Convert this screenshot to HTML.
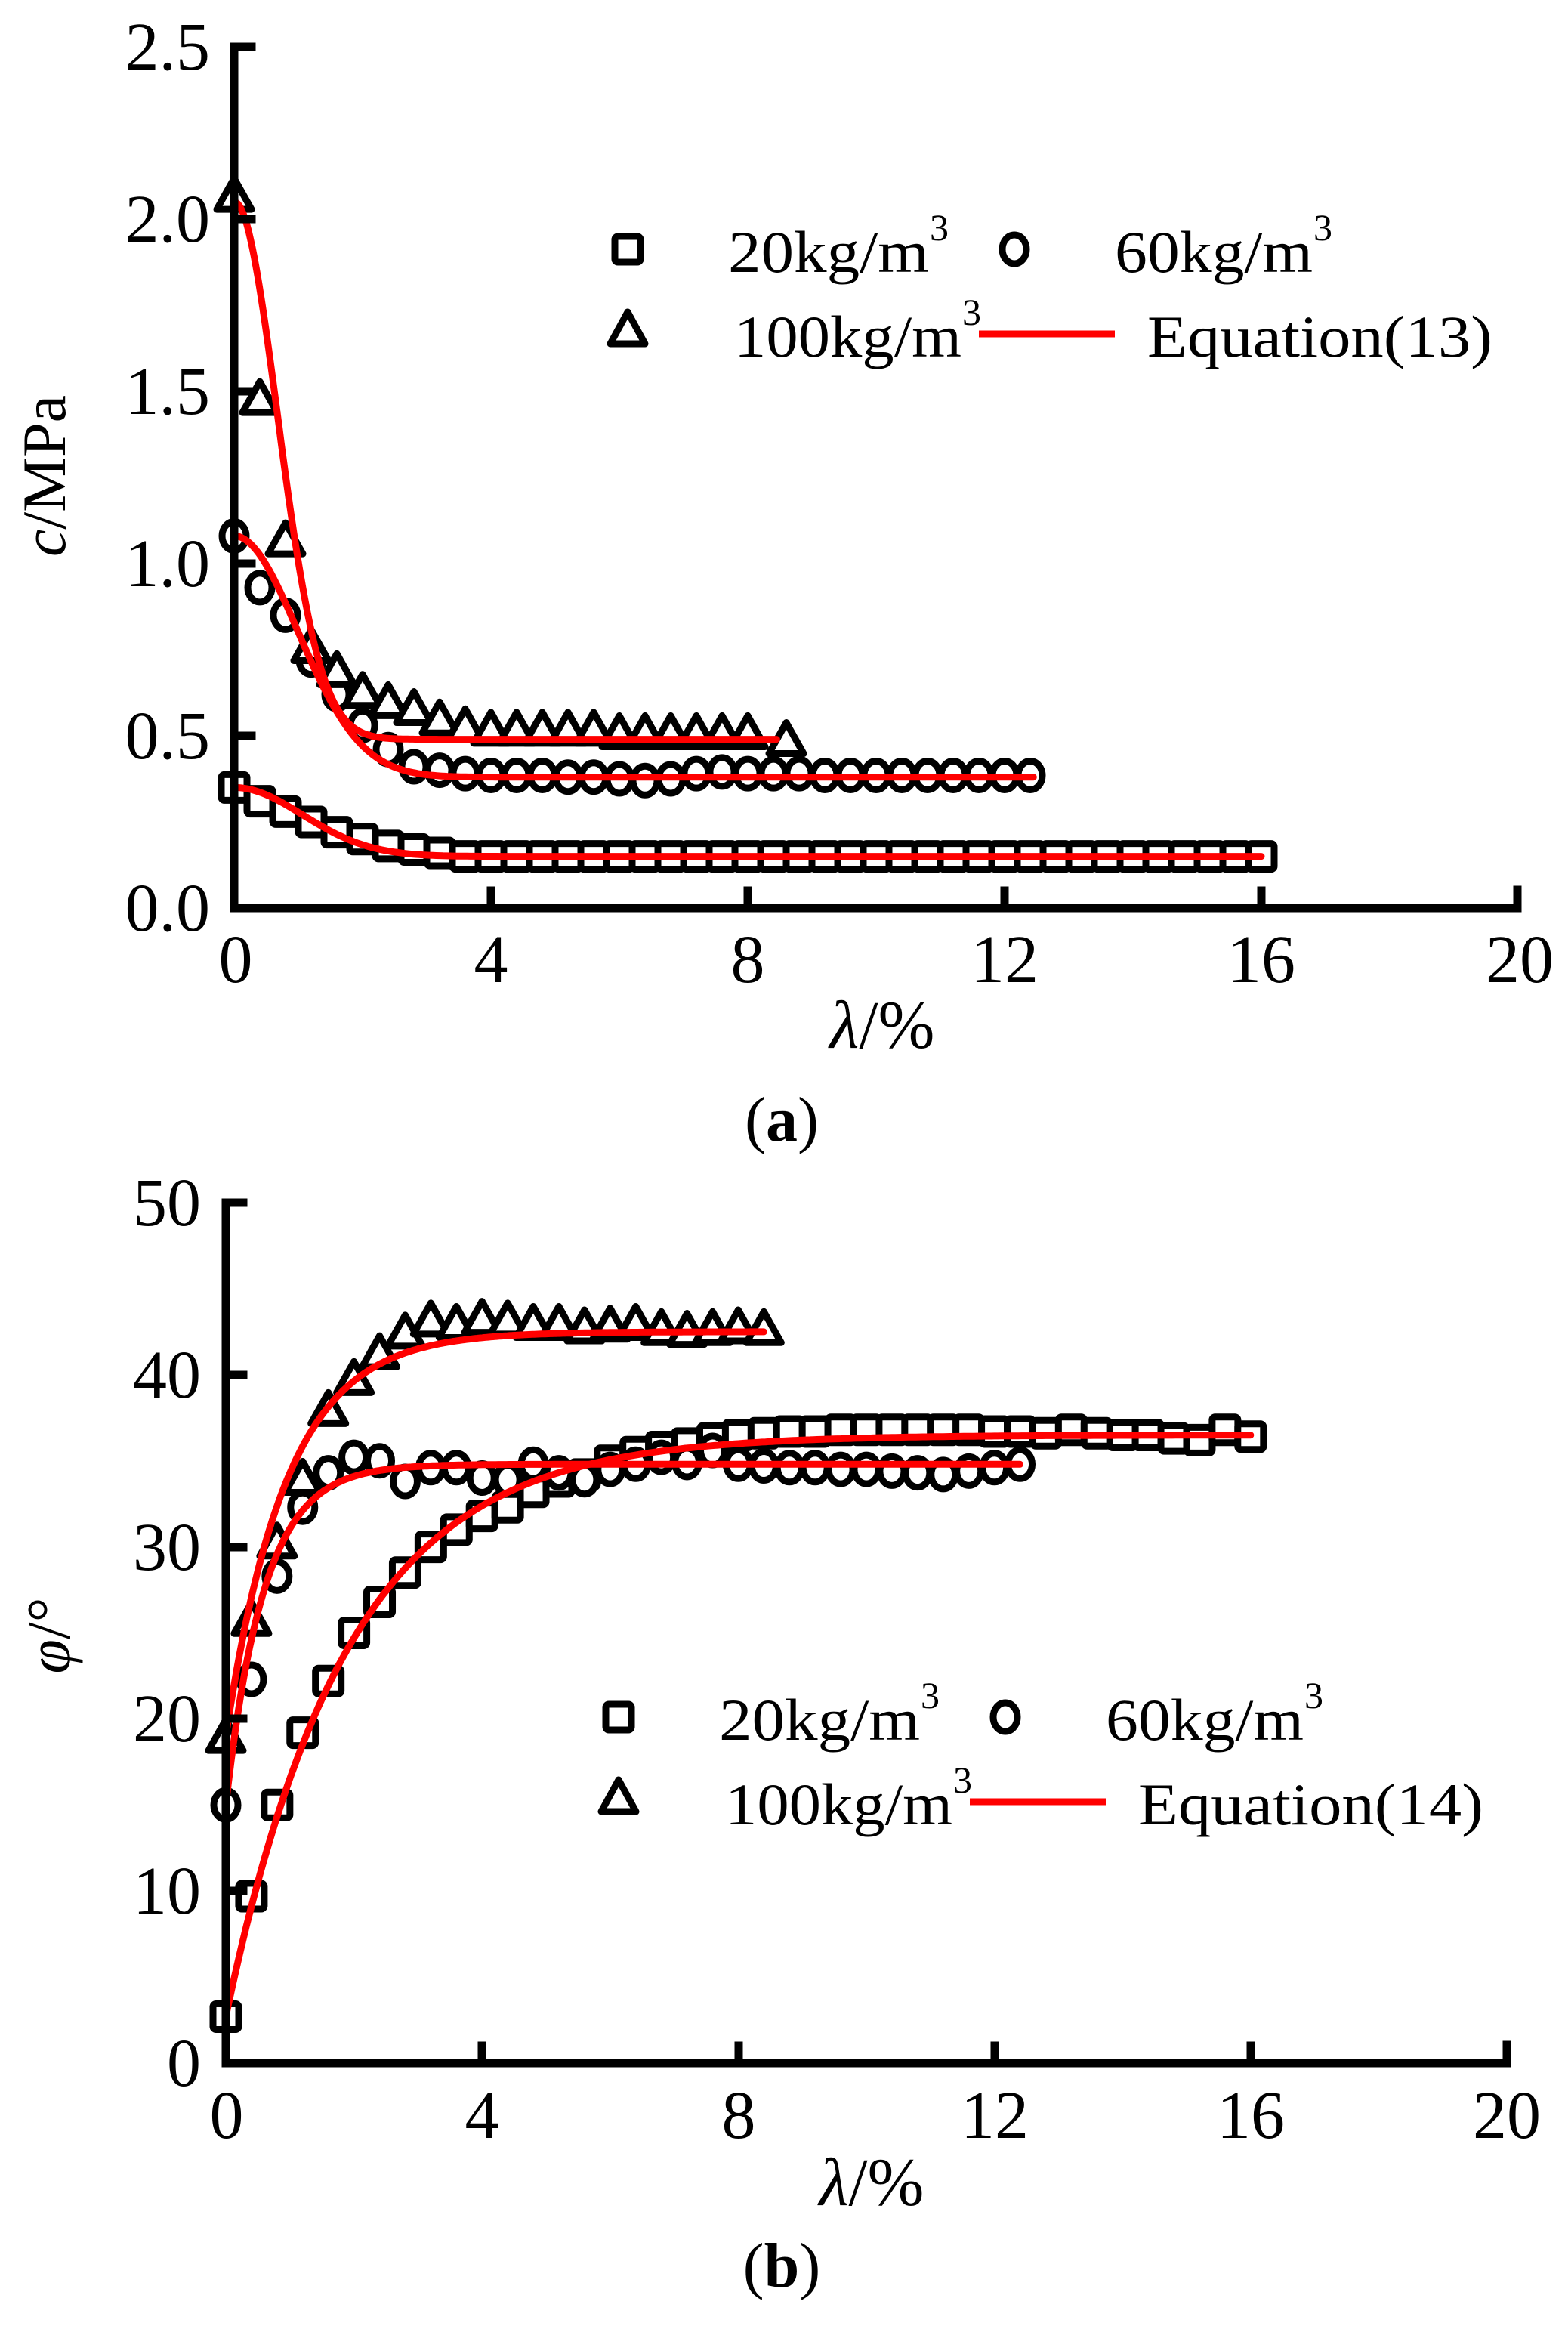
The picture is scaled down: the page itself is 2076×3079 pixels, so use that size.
<!DOCTYPE html>
<html><head><meta charset="utf-8">
<style>
html,body{margin:0;padding:0;background:#fff;}
svg{display:block;}
text{font-family:"Liberation Serif","Times New Roman",serif;fill:#000;}
</style></head>
<body>
<svg id="s" width="2076" height="3079" viewBox="0 0 2076 3079" xmlns="http://www.w3.org/2000/svg">
<rect width="2076" height="3079" fill="#fff"/>
<g id="ga"></g>
<g id="gb"></g>

<!-- Axes (a) -->
<g stroke="#000" stroke-width="11" fill="none" stroke-linecap="square">
  <path d="M333,62 L310,62 L310,1202 L2009,1202 L2009,1178"/>
  <path d="M310,290 L333,290 M310,518 L333,518 M310,746 L333,746 M310,974 L333,974"/>
  <path d="M650,1202 L650,1179 M990,1202 L990,1179 M1330,1202 L1330,1179 M1670,1202 L1670,1179"/>
</g>
<g font-size="90" text-anchor="end">
  <text x="278" y="1232">0.0</text>
  <text x="278" y="1004">0.5</text>
  <text x="278" y="776">1.0</text>
  <text x="278" y="548">1.5</text>
  <text x="278" y="320">2.0</text>
  <text x="278" y="92">2.5</text>
</g>
<g font-size="90" text-anchor="middle">
  <text x="312" y="1300">0</text>
  <text x="650" y="1300">4</text>
  <text x="990" y="1300">8</text>
  <text x="1330" y="1300">12</text>
  <text x="1670" y="1300">16</text>
  <text x="2012" y="1300">20</text>
</g>
<text font-size="82" text-anchor="middle" transform="translate(86,630) rotate(-90)"><tspan font-style="italic">c</tspan>/MPa</text>
<text font-size="90" x="1168" y="1387" text-anchor="middle"><tspan font-style="italic">λ</tspan>/%</text>
<text font-size="84" x="1035" y="1510" text-anchor="middle">(<tspan font-weight="bold">a</tspan>)</text>

<!-- Axes (b) -->
<g stroke="#000" stroke-width="11" fill="none" stroke-linecap="square">
  <path d="M322,1592 L299,1592 L299,2731 L1995,2731 L1995,2707"/>
  <path d="M299,1820 L322,1820 M299,2048 L322,2048 M299,2275 L322,2275 M299,2503 L322,2503"/>
  <path d="M638,2731 L638,2708 M978,2731 L978,2708 M1317,2731 L1317,2708 M1656,2731 L1656,2708"/>
</g>
<g font-size="90" text-anchor="end">
  <text x="266" y="2761">0</text>
  <text x="266" y="2533">10</text>
  <text x="266" y="2305">20</text>
  <text x="266" y="2078">30</text>
  <text x="266" y="1850">40</text>
  <text x="266" y="1622">50</text>
</g>
<g font-size="90" text-anchor="middle">
  <text x="300" y="2830">0</text>
  <text x="638" y="2830">4</text>
  <text x="978" y="2830">8</text>
  <text x="1317" y="2830">12</text>
  <text x="1656" y="2830">16</text>
  <text x="1995" y="2830">20</text>
</g>
<text font-size="82" text-anchor="middle" transform="translate(92,2165) rotate(-90)"><tspan font-style="italic">φ</tspan>/°</text>
<text font-size="90" x="1154" y="2919" text-anchor="middle"><tspan font-style="italic">λ</tspan>/%</text>
<text font-size="84" x="1035" y="3027" text-anchor="middle">(<tspan font-weight="bold">b</tspan>)</text>

<!-- Legend (a) -->
<g id="lega">
  <rect x="814" y="313" width="34" height="34" rx="4" fill="#fff" stroke="#000" stroke-width="9"/>
  <text font-size="78" x="964" y="360" textLength="266" lengthAdjust="spacingAndGlyphs">20kg/m</text>
  <text font-size="50" x="1231" y="318">3</text>
  <ellipse cx="1343" cy="330" rx="16" ry="19" fill="#fff" stroke="#000" stroke-width="9"/>
  <text font-size="78" x="1476" y="360" textLength="262" lengthAdjust="spacingAndGlyphs">60kg/m</text>
  <text font-size="50" x="1739" y="318">3</text>
  <path d="M831,413 L854,455 L808,455 Z" fill="#fff" stroke="#000" stroke-width="9" stroke-linejoin="round"/>
  <text font-size="78" x="972" y="472" textLength="301" lengthAdjust="spacingAndGlyphs">100kg/m</text>
  <text font-size="50" x="1274" y="430">3</text>
  <line x1="1296" y1="442" x2="1476" y2="442" stroke="#f00" stroke-width="9"/>
  <text font-size="78" x="1519" y="472" textLength="457" lengthAdjust="spacingAndGlyphs">Equation(13)</text>
</g>
<!-- Legend (b) -->
<g transform="translate(-12,1943)">
  <rect x="814" y="313" width="34" height="34" rx="4" fill="#fff" stroke="#000" stroke-width="9"/>
  <text font-size="78" x="964" y="360" textLength="266" lengthAdjust="spacingAndGlyphs">20kg/m</text>
  <text font-size="50" x="1231" y="318">3</text>
  <ellipse cx="1343" cy="330" rx="16" ry="19" fill="#fff" stroke="#000" stroke-width="9"/>
  <text font-size="78" x="1476" y="360" textLength="262" lengthAdjust="spacingAndGlyphs">60kg/m</text>
  <text font-size="50" x="1739" y="318">3</text>
  <path d="M831,413 L854,455 L808,455 Z" fill="#fff" stroke="#000" stroke-width="9" stroke-linejoin="round"/>
  <text font-size="78" x="972" y="472" textLength="301" lengthAdjust="spacingAndGlyphs">100kg/m</text>
  <text font-size="50" x="1274" y="430">3</text>
  <line x1="1296" y1="442" x2="1476" y2="442" stroke="#f00" stroke-width="9"/>
  <text font-size="78" x="1519" y="472" textLength="457" lengthAdjust="spacingAndGlyphs">Equation(14)</text>
</g>
</svg>
<script>
(function(){
var NS="http://www.w3.org/2000/svg";
function el(p,t,a){var e=document.createElementNS(NS,t);for(var k in a)e.setAttribute(k,a[k]);p.appendChild(e);return e;}
function sq(g,x,y){el(g,"rect",{x:x-17,y:y-17,width:34,height:34,rx:4,fill:"#fff",stroke:"#000","stroke-width":9});}
function ci(g,x,y){el(g,"ellipse",{cx:x,cy:y,rx:16,ry:19,fill:"#fff",stroke:"#000","stroke-width":9});}
function tr(g,x,y){el(g,"path",{d:"M"+x+","+(y-22)+" L"+(x+23)+","+(y+19)+" L"+(x-23)+","+(y+19)+" Z",fill:"#fff",stroke:"#000","stroke-width":9,"stroke-linejoin":"round"});}
function curve(g,f,x0,x1,X,Y){var d="";for(var i=0;i<=300;i++){var l=x0+(x1-x0)*i/300;d+=(i?"L":"M")+X(l).toFixed(1)+","+Y(f(l)).toFixed(1);}
 el(g,"path",{d:d,fill:"none",stroke:"#f00","stroke-width":9,"stroke-linecap":"round"});}
// (a)
var ga=document.getElementById("ga");
var Xa=function(l){return 310+l*85;},Ya=function(c){return 1202-c*456;};
var a20=[0.35,0.31,0.28,0.25,0.22,0.2,0.18,0.17,0.16,0.15];while(a20.length<41)a20.push(0.15);
var a60=[1.08,0.93,0.85,0.72,0.62,0.53,0.46,0.41,0.40,0.39,0.385,0.385,0.385,0.38,0.38,0.375,0.37,0.375,0.39,0.395,0.39,0.39,0.39,0.385,0.385,0.385,0.385,0.385,0.385,0.385,0.385,0.385];
var a100=[2.07,1.48,1.07,0.76,0.69,0.63,0.60,0.58,0.55,0.53,0.52,0.52,0.52,0.52,0.52,0.51,0.51,0.51,0.51,0.51,0.51,0.49];
a20.forEach(function(v,i){sq(ga,Xa(i*0.4),Ya(v));});
a60.forEach(function(v,i){ci(ga,Xa(i*0.4),Ya(v));});
a100.forEach(function(v,i){tr(ga,Xa(i===21?8.6:i*0.4),Ya(v));});
curve(ga,function(l){return 0.15+0.2*Math.exp(-Math.pow(l/1.5,2));},0,16,Xa,Ya);
curve(ga,function(l){return 0.38+0.70*Math.exp(-Math.pow(l/1.4,2));},0,12.45,Xa,Ya);
curve(ga,function(l){return 0.49+1.56*Math.exp(-Math.pow(l/0.95,2));},0,8.45,Xa,Ya);
// (b)
var gb=document.getElementById("gb");
var Xb=function(l){return 299+l*84.8;},Yb=function(p){return 2731-p*22.78;};
var b20=[2.7,9.7,15,19.2,22.2,25,26.8,28.5,30,31,31.8,32.3,33.2,33.8,34.2,35,35.5,35.8,36,36.3,36.5,36.6,36.7,36.7,36.8,36.8,36.8,36.8,36.8,36.8,36.7,36.7,36.6,36.8,36.6,36.5,36.5,36.3,36.2,36.8,36.4];
var b60=[15,22.3,28.3,32.3,34.3,35.2,35,33.8,34.6,34.6,34,33.9,34.8,34.3,33.9,34.5,34.8,35.2,34.9,35.6,34.8,34.7,34.6,34.6,34.5,34.5,34.4,34.3,34.2,34.4,34.6,34.8];
var b100=[19,25.8,30.3,34,38,39.8,41.3,42.5,43.2,43,43.3,43.2,43,43,42.8,42.9,43,42.7,42.6,42.7,42.8,42.7];
b20.forEach(function(v,i){sq(gb,Xb(i*0.4),Yb(v));});
b60.forEach(function(v,i){ci(gb,Xb(i*0.4),Yb(v));});
b100.forEach(function(v,i){tr(gb,Xb(i*0.4),Yb(v));});
curve(gb,function(l){return 36.5-33.8*Math.exp(-l/1.9);},0,16,Xb,Yb);
curve(gb,function(l){return 34.8-19.8*Math.exp(-l/0.6);},0,12.4,Xb,Yb);
curve(gb,function(l){return 42.5-23.5*Math.exp(-l/0.95);},0,8.4,Xb,Yb);
})();
</script>
</body></html>
